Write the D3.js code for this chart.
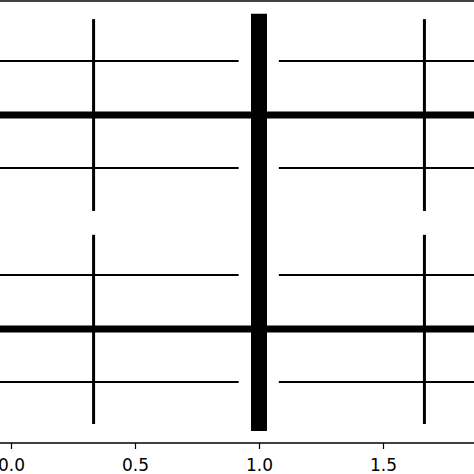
<!DOCTYPE html><html><head><script src="https://cdn.jsdelivr.net/npm/d3@7"></script>
<style>body{margin:0;background:#fff}</style></head><body><svg id="c" width="474" height="474"></svg>
<script>
const xTicks=[0,0.5,1.0,1.5];
const thickH=[0.742,0.258];
const thinH=[0.864,0.622,0.380,0.138];
const thinHSeg=[[-0.2,0.918],[1.08,2.0]];
const thinV=[{x:0.333,y0:0.525,y1:0.959},{x:0.333,y0:0.043,y1:0.471},{x:1.667,y0:0.525,y1:0.959},{x:1.667,y0:0.043,y1:0.471}];
const thickV=[{x:1.0,y0:0.027,y1:0.971}];
const svg=d3.select("#c");
const x=d3.scaleLinear().domain([0,1]).range([11,259]);
const y=d3.scaleLinear().domain([0,1]).range([443,1]);
const g=svg.append("g");
thickH.forEach(v=>g.append("line").attr("x1",x(-0.2)).attr("x2",x(2)).attr("y1",y(v)).attr("y2",y(v)).attr("stroke","#000").attr("stroke-width",7));
thinH.forEach(v=>thinHSeg.forEach(s=>g.append("line").attr("x1",x(s[0])).attr("x2",x(s[1])).attr("y1",y(v)).attr("y2",y(v)).attr("stroke","#000").attr("stroke-width",2)));
thinV.forEach(d=>g.append("line").attr("x1",x(d.x)).attr("x2",x(d.x)).attr("y1",y(d.y0)).attr("y2",y(d.y1)).attr("stroke","#000").attr("stroke-width",3));
thickV.forEach(d=>g.append("line").attr("x1",x(d.x)).attr("x2",x(d.x)).attr("y1",y(d.y0)).attr("y2",y(d.y1)).attr("stroke","#000").attr("stroke-width",16));
svg.append("line").attr("x1",0).attr("x2",474).attr("y1",1).attr("y2",1).attr("stroke","#000").attr("stroke-width",1.5);
const ax=svg.append("g").attr("transform","translate(0,443)").call(d3.axisBottom(x).tickValues(xTicks).tickFormat(d3.format(".1f")).tickSize(6).tickPadding(10));
ax.select(".domain").attr("d","M0,0H474").attr("stroke-width",1.5);
ax.selectAll("line").attr("stroke-width",1.2);
ax.selectAll("text").attr("font-family","DejaVu Sans").attr("font-size",17).attr("fill","#000");
</script></body></html>
